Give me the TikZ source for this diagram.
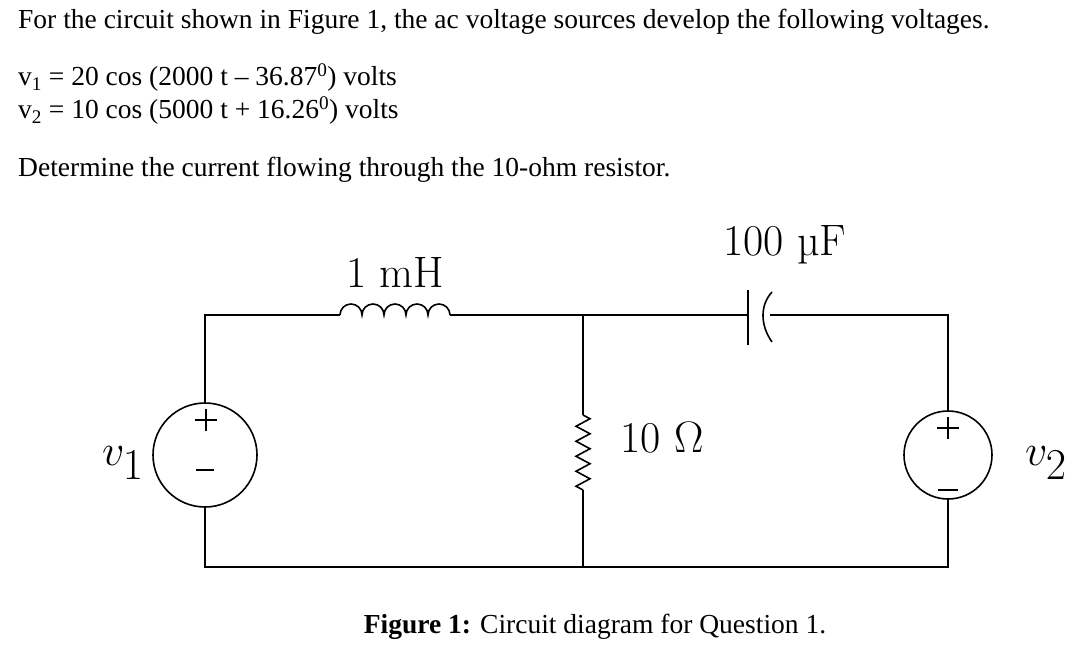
\documentclass[tikz,border=0pt]{standalone}
\usepackage{fontspec}
\usepackage{graphicx}
\setmainfont{Liberation Serif}
\newfontfamily\cmfont{Latin Modern Roman}
\newcommand{\bigmath}[1]{\scalebox{1.77}{$#1$}}
\usetikzlibrary{decorations.pathmorphing}
\begin{document}
\begin{tikzpicture}[x=1pt,y=-1pt,
  wire/.style={line width=1.6pt},
  txt/.style={anchor=west,inner sep=0pt,font=\fontsize{27.5}{30}\selectfont},
  lbl/.style={inner sep=0pt,font=\cmfont\fontsize{44}{48}\selectfont}]
\useasboundingbox[fill=white] (0,0) rectangle (1080,648);
\node[txt] (t1) at (18,22) {For the circuit shown in Figure 1, the ac voltage sources develop the following voltages.};
\node[txt] (t2) at (18,78) {v\textsubscript{1} = 20 cos (2000 t -- 36.87\textsuperscript{0}) volts};
\node[txt] (t3) at (18,111) {v\textsubscript{2} = 10 cos (5000 t + 16.26\textsuperscript{0}) volts};
\node[txt] (t4) at (18,170) {Determine the current flowing through the 10-ohm resistor.};
\node[txt,anchor=center] (cap) at (595,627) {\textbf{Figure 1:} Circuit diagram for Question 1.};
% nodes
\coordinate (tl) at (205,315); \coordinate (bl) at (205,567);
\coordinate (tm) at (583,315); \coordinate (bm) at (583,567);
\coordinate (tr) at (948,315); \coordinate (br) at (948,567);
\coordinate (l1) at (340,315); \coordinate (l2) at (450,315);
\coordinate (c1) at (748,315); \coordinate (c2) at (770,315);
\coordinate (r1) at (583,415); \coordinate (r2) at (583,490);
\node[draw,circle,line width=1.6pt,minimum size=104pt,inner sep=0pt] (s1) at (205,455) {};
\node[draw,circle,line width=1.6pt,minimum size=88pt,inner sep=0pt] (s2) at (948,455) {};
\draw[wire] (s1.south) -- (bl) -- (bm) -- (br) -- (s2.south);
\draw[wire] (s1.north) -- (tl) -- (l1);
\draw[wire] (l1) \foreach \i in {0,...,4}{ arc[start angle=180,end angle=360,radius=11]} -- (l2);
\draw[wire] (l2) -- (tm) -- (c1);
\draw[wire] (748,290) -- (748,345);
\draw[wire] (772,292) .. controls (760,305) and (760,325) .. (772,342);
\draw[wire] (c2) -- (tr) -- (s2.north);
\draw[wire] (tm) -- (r1);
\draw[wire,decorate,decoration={zigzag,segment length=15pt,amplitude=7pt}] (r1) -- (r2);
\draw[wire] (r2) -- (bm);
% signs
\draw[line width=1.6pt] (195,420) -- (217,420) (206,409) -- (206,431) (196,470) -- (214,470);
\draw[line width=1.6pt] (937,428) -- (959,428) (948,417) -- (948,439) (938,490) -- (958,490);
\node[lbl] (lv1) at (123,463) {\bigmath{v_1}};
\node[lbl] (lv2) at (1046,463) {\bigmath{v_2}};
\node[lbl] (ll) at (395,272) {1 mH};
\node[lbl] (lc) at (785,245) {100 µF};
\node[lbl] (lr) at (662,438) {10 \bigmath{\Omega}};
\end{tikzpicture}
\end{document}
